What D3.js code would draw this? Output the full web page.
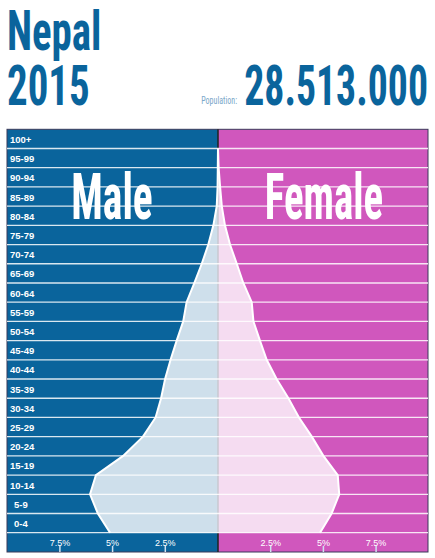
<!DOCTYPE html>
<html><head><meta charset="utf-8">
<script src="https://cdn.jsdelivr.net/npm/d3@7"></script>
<style>body{margin:0;background:#fff}svg{display:block}</style>
</head><body><svg id="c" width="435" height="558"></svg>
<script>
const ages = ["0-4","5-9","10-14","15-19","20-24","25-29","30-34","35-39","40-44","45-49","50-54","55-59","60-64","65-69","70-74","75-79","80-84","85-89","90-94","95-99","100+"];
const male = [5.12,5.7,6.07,5.79,4.5,3.56,2.96,2.7,2.51,2.25,1.96,1.65,1.49,1.12,0.77,0.46,0.22,0.06,0.02,0.01,0];
const female = [4.84,5.39,5.75,5.68,5.0,4.45,3.84,3.34,2.78,2.31,1.99,1.68,1.6,1.2,0.89,0.57,0.33,0.18,0.1,0.03,0];
const ticks = [2.5,5,7.5];
const titleCountry = "Nepal", titleYear = "2015", population = "28.513.000";

const svg = d3.select("#c");
const L=7,R=428,C=218,T=129.3,B=532.7,AX=552;
const xm = d3.scaleLinear().domain([0,10]).range([C, C-210.8]);
const xf = d3.scaleLinear().domain([0,10]).range([C, C+210.8]);
const y = d3.scaleBand().domain(ages).range([B,T]);
const cond = "'Liberation Sans Narrow','Roboto Condensed','DejaVu Sans Condensed',sans-serif";
const blue="#0a649c", pink="#d057bd";

const tt = (x,yy,txt,size,col,anchor,sx,w)=>svg.append("text").attr("transform",`translate(${x},${yy}) scale(${sx},1)`)
  .attr("text-anchor",anchor||"start").attr("font-family",cond).attr("font-weight",w||"bold").attr("font-size",size).attr("fill",col).text(txt);
tt(7,50,titleCountry,56,blue,"start",0.73);
tt(7,105,titleYear,56,blue,"start",0.73);
tt(428,105,population,56,blue,"end",0.71);
tt(237,104,"Population:",10,"#7aa7c9","end",0.8,"normal");

svg.append("rect").attr("x",L).attr("y",T).attr("width",C-L).attr("height",AX-T).attr("fill",blue);
svg.append("rect").attr("x",C).attr("y",T).attr("width",R-C).attr("height",AX-T).attr("fill",pink);
svg.append("rect").attr("x",L).attr("y",T).attr("width",R-L).attr("height",AX-T).attr("fill","none").attr("stroke","#3a3a5a").attr("stroke-width",1);
svg.append("line").attr("x1",C).attr("x2",C).attr("y1",T).attr("y2",AX).attr("stroke","#222").attr("stroke-width",1.5);

tt(112,219,"Male",64,"#fff","middle",0.65);
tt(324,219,"Female",64,"#fff","middle",0.64);

const py = (d,i)=>y(ages[i])+y.bandwidth();
const am = d3.area().x0(C).x1((d)=>xm(d)).y((d,i)=>py(d,i));
const af = d3.area().x0(C).x1((d)=>xf(d)).y((d,i)=>py(d,i));
svg.append("path").attr("d",am(male)).attr("fill","#cedfeb");
svg.append("path").attr("d",af(female)).attr("fill","#f5dcf1");
svg.append("line").attr("x1",C).attr("x2",C).attr("y1",y("95-99")+y.bandwidth()).attr("y2",B).attr("stroke","#c9c9d0").attr("stroke-width",1.5);

ages.forEach(a=>{const yy=y(a)+y.bandwidth();
  svg.append("line").attr("x1",L).attr("x2",R).attr("y1",yy).attr("y2",yy).attr("stroke","#fff").attr("stroke-opacity",0.85).attr("stroke-width",1.3);});

const lm = d3.line().x(d=>xm(d)).y((d,i)=>py(d,i));
const lf = d3.line().x(d=>xf(d)).y((d,i)=>py(d,i));
svg.append("path").attr("d",lm(male)).attr("fill","none").attr("stroke","#fff").attr("stroke-width",2);
svg.append("path").attr("d",lf(female)).attr("fill","none").attr("stroke","#fff").attr("stroke-width",2);

ages.forEach(a=>svg.append("text").attr("x",a.length<4?14:10).attr("y",y(a)+y.bandwidth()/2+4)
  .attr("font-family","'Liberation Sans',Arial,sans-serif").attr("font-weight","bold").attr("font-size",9.5).attr("fill","#fff").text(a));

[xm,xf].forEach(s=>{
  ticks.forEach(t=>{
    svg.append("text").attr("x",s(t)).attr("y",546).attr("text-anchor","middle").attr("font-family","'Liberation Sans',Arial,sans-serif")
      .attr("font-size",9).attr("fill","#fff").text(t+"%");
    svg.append("line").attr("x1",s(t)).attr("x2",s(t)).attr("y1",546).attr("y2",AX).attr("stroke","#cfe0f0").attr("stroke-width",1.5);
  });
});
</script></body></html>
